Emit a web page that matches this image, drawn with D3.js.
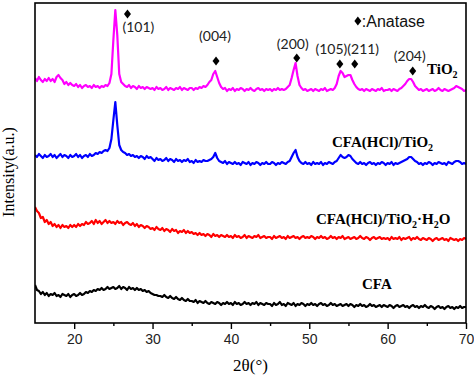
<!DOCTYPE html>
<html>
<head>
<meta charset="utf-8">
<script src="https://cdn.jsdelivr.net/npm/d3@7"></script>
<style>
  body { margin: 0; background: #fff; }
  svg { display: block; }
</style>
</head>
<body>
<script>
// XRD patterns, intensity in a.u., sampled every 0.25 deg from 15 to 70 deg
const twoThetaStart = 15;
const twoThetaStep = 0.25;

const tio2 = [
  245,242,246,243,241,244,242,245,242,244,241,246,248,245,243,239,241,238,240,238,
  237,239,236,238,235,237,238,236,237,235,238,236,237,235,237,236,238,237,240,249,
  283,313,288,249,241,239,237,236,238,235,237,236,234,237,235,236,234,236,235,234,
  235,233,236,234,235,233,234,236,233,235,234,233,235,234,236,233,235,234,233,235,
  235,233,235,234,236,235,237,236,238,241,243,249,252,246,240,236,234,235,232,234,
  233,235,232,234,233,235,234,232,234,233,235,233,232,234,235,233,234,232,234,233,
  234,232,234,233,235,233,234,233,234,236,238,245,253,260,247,238,235,233,234,232,
  233,234,232,234,233,232,234,233,235,232,233,234,233,235,239,247,252,250,246,247,
  248,248,243,239,236,234,233,234,232,234,233,232,234,233,232,234,233,235,232,233,
  233,234,232,234,233,232,234,235,237,239,242,244,244,241,237,235,233,234,232,233,
  234,232,233,234,232,233,235,233,232,234,233,232,233,234,235,237,236,235,234,232,
  233
];

const cfaHclTio2 = [
  168,166,169,167,165,168,166,167,169,166,168,165,167,169,166,168,167,165,168,166,
  167,169,166,168,165,167,168,166,169,167,168,170,169,171,170,172,173,172,175,184,
  203,221,198,178,173,171,170,168,169,167,168,166,167,165,167,166,164,167,165,166,
  164,162,165,163,164,162,163,165,162,164,163,161,164,162,163,161,163,162,164,161,
  162,160,163,161,162,161,163,162,162,163,164,166,170,165,162,161,160,162,159,161,
  160,159,161,159,160,158,161,160,159,161,158,160,159,161,160,158,160,159,161,159,
  159,161,160,158,160,159,161,160,159,161,162,166,170,173,166,162,160,159,161,159,
  160,158,161,159,160,159,161,158,160,159,161,160,159,161,162,165,168,166,165,166,
  168,167,164,162,160,159,161,159,160,158,160,161,159,160,158,160,159,161,160,158,
  160,159,161,158,160,159,160,161,162,163,164,166,166,164,162,161,159,160,158,160,
  159,161,160,158,160,159,161,160,159,160,158,161,160,159,161,162,162,161,159,160,
  159
];

const cfaHclTio2H2o = [
  116,112,110,105,106,101,103,99,101,97,99,96,98,95,98,96,97,95,98,96,
  98,96,99,97,99,98,101,99,100,102,99,103,100,102,99,101,103,100,102,100,
  101,99,102,100,101,98,100,101,99,98,100,97,99,96,98,97,95,97,96,94,
  95,93,96,94,93,95,92,94,93,91,94,92,93,90,92,91,93,90,92,90,
  91,89,90,88,90,88,89,87,89,88,86,89,87,88,86,88,87,86,88,86,
  87,85,88,86,87,85,86,88,85,87,86,85,87,86,88,85,86,87,85,86,
  86,84,87,85,86,87,85,86,84,87,85,86,87,85,86,84,86,87,85,86,
  85,87,86,84,86,85,87,85,86,84,85,87,85,86,84,86,85,87,84,85,
  86,84,85,86,84,85,87,85,84,86,85,83,85,86,84,85,86,84,85,84,
  85,83,86,84,85,84,86,83,85,84,85,86,83,85,84,86,84,83,85,84,
  83,85,84,82,84,85,83,84,85,83,84,82,85,84,83,84,82,84,83,85,
  84
];

const cfa = [
  38,33,32,29,31,28,30,27,29,28,30,27,28,26,29,28,27,29,26,28,
  29,27,28,30,28,29,31,30,32,31,33,32,34,33,35,33,34,36,34,35,
  36,34,35,37,34,36,35,33,36,34,35,33,35,33,34,32,33,31,32,30,
  29,28,28,27,27,26,28,26,25,27,25,24,26,24,23,25,23,22,24,22,
  22,21,23,20,22,21,20,22,20,19,21,20,19,21,20,18,20,19,21,19,
  20,18,21,19,20,18,19,21,19,20,18,20,19,21,18,20,19,18,20,19,
  19,17,20,18,19,21,18,19,17,20,19,18,20,17,19,18,20,19,17,19,
  18,20,18,19,17,19,20,18,19,17,18,20,18,19,17,18,19,17,18,19,
  17,19,18,16,18,17,19,17,18,16,17,19,17,18,16,17,18,16,18,17,
  16,18,17,15,17,18,16,17,18,16,17,15,17,18,16,17,15,17,16,18,
  16,15,17,16,14,16,17,15,16,14,16,17,15,16,14,16,15,17,15,16,
  16
];

const seriesColors = ["#ff00ff", "#0000ff", "#ff0000", "#000000"];

const majorTicks = [20, 30, 40, 50, 60, 70];
const minorTicks = [25, 35, 45, 55, 65];

// anatase reflections: label, diamond 2theta, diamond intensity
const peakLabels = ["(101)", "(004)", "(200)", "(105)", "(211)", "(204)"];
const peakTheta = [26.8, 38.1, 48.4, 53.9, 55.8, 63.2];
const peakMarkY = [309, 262, 265, 259, 259, 252];

const W = 474, H = 376;
const pLeft = 35, pRight = 466, pTop = 3, pBottom = 323;

const x = d3.scaleLinear().domain([15, 70]).range([pLeft, pRight]);
const y = d3.scaleLinear().domain([0, 320]).range([pBottom, pTop]);

const svg = d3.select("body").append("svg")
    .attr("width", W)
    .attr("height", H);

svg.append("defs").append("clipPath").attr("id", "plotclip")
  .append("rect")
    .attr("x", pLeft).attr("y", pTop)
    .attr("width", pRight - pLeft).attr("height", pBottom - pTop);

const line = d3.line()
    .x((d, i) => x(twoThetaStart + i * twoThetaStep))
    .y(d => y(d));

const plot = svg.append("g").attr("clip-path", "url(#plotclip)");

[tio2, cfaHclTio2, cfaHclTio2H2o, cfa].forEach((s, k) => {
  plot.append("path")
      .datum(s)
      .attr("fill", "none")
      .attr("stroke", seriesColors[k])
      .attr("stroke-width", 2.2)
      .attr("stroke-linejoin", "round")
      .attr("d", line);
});

// frame
svg.append("rect")
    .attr("x", pLeft).attr("y", pTop)
    .attr("width", pRight - pLeft).attr("height", pBottom - pTop)
    .attr("fill", "none")
    .attr("stroke", "#000")
    .attr("stroke-width", 1.6);

// x axis
const xAxis = svg.append("g")
    .attr("transform", `translate(0,${pBottom})`)
    .call(d3.axisBottom(x).tickValues(majorTicks).tickSize(6).tickPadding(5).tickFormat(d3.format("d")));
xAxis.select(".domain").remove();
xAxis.selectAll("line").attr("stroke-width", 1.4);
xAxis.selectAll("text")
    .attr("font-family", "Liberation Sans, Arial, sans-serif")
    .attr("font-size", 14)
    .attr("fill", "#222");

const xMinor = svg.append("g")
    .attr("transform", `translate(0,${pBottom})`)
    .call(d3.axisBottom(x).tickValues(minorTicks).tickSize(3).tickFormat(""));
xMinor.select(".domain").remove();
xMinor.selectAll("line").attr("stroke-width", 1.4);

// axis titles
svg.append("text")
    .attr("x", (pLeft + pRight) / 2)
    .attr("y", 371)
    .attr("text-anchor", "middle")
    .attr("font-family", "Liberation Serif, Times New Roman, serif")
    .attr("font-size", 17)
    .text("2θ(°)");

svg.append("text")
    .attr("transform", "translate(14,172) rotate(-90)")
    .attr("text-anchor", "middle")
    .attr("font-family", "Liberation Serif, Times New Roman, serif")
    .attr("font-size", 16)
    .text("Intensity(a.u.)");

// diamonds
const diamond = "M0,-4.5L3.5,0L0,4.5L-3.5,0Z";
peakTheta.forEach((t, i) => {
  svg.append("path")
      .attr("d", diamond)
      .attr("transform", `translate(${x(t)},${y(peakMarkY[i])})`)
      .attr("fill", "#000");
});

const peakFont = "Lato, Calibri, sans-serif";
function peakText(px, py, anchor, str) {
  svg.append("text")
      .attr("x", px).attr("y", py)
      .attr("text-anchor", anchor)
      .attr("font-family", peakFont)
      .attr("font-size", 14)
      .attr("fill", "#222")
      .text(str);
}
peakText(x(peakTheta[0]) - 5, y(peakMarkY[0]) + 18, "start", peakLabels[0]);
peakText(x(peakTheta[1]) - 1, y(peakMarkY[1]) - 20, "middle", peakLabels[1]);
peakText(x(peakTheta[2]) - 4, y(peakMarkY[2]) - 9, "middle", peakLabels[2]);
peakText((x(peakTheta[3]) + x(peakTheta[4])) / 2, y(peakMarkY[3]) - 10, "middle", peakLabels[3] + peakLabels[4]);
peakText(x(peakTheta[5]) - 3, y(peakMarkY[5]) - 10, "middle", peakLabels[5]);

// legend for the diamond
svg.append("path")
    .attr("d", diamond)
    .attr("transform", `translate(${x(56.2)},${y(302)})`)
    .attr("fill", "#000");
svg.append("text")
    .attr("x", x(56.2) + 4).attr("y", 27)
    .attr("font-family", "Liberation Sans, Arial, sans-serif")
    .attr("font-size", 16)
    .attr("fill", "#111")
    .text(":Anatase");

// series labels
function seriesLabel(px, py, parts) {
  const t = svg.append("text")
      .attr("x", px).attr("y", py)
      .attr("font-family", "Liberation Serif, Times New Roman, serif")
      .attr("font-weight", "bold")
      .attr("font-size", 15)
      .attr("fill", "#000");
  parts.forEach(p => {
    const ts = t.append("tspan").text(p[0]);
    if (p[1]) ts.attr("font-size", 10).attr("dy", 4);
    if (p[2]) ts.attr("dy", -4);
  });
}
seriesLabel(427, 74, [["TiO"], ["2", true]]);
seriesLabel(332, 147, [["CFA(HCl)/TiO"], ["2", true]]);
seriesLabel(316, 224, [["CFA(HCl)/TiO"], ["2", true], ["·H", false, true], ["2", true], ["O", false, true]]);
seriesLabel(362, 289, [["CFA"]]);
</script>
</body>
</html>
